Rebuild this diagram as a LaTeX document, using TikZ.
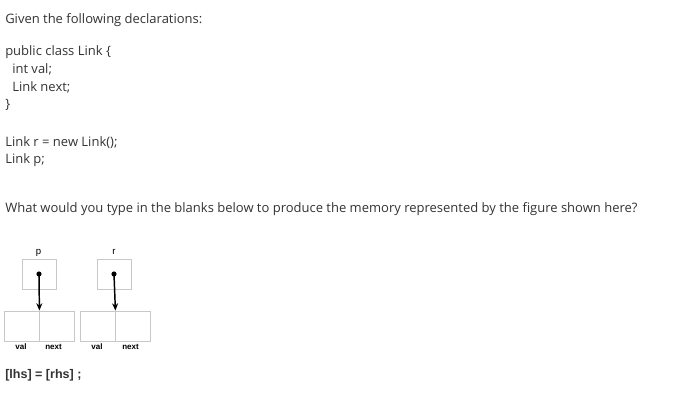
\documentclass[tikz,border=0pt]{standalone}
\usepackage{fontspec}
\setmainfont{Open Sans}
\newfontfamily\arialfont{Liberation Sans}
\usetikzlibrary{positioning, arrows.meta}
\definecolor{textgray}{HTML}{333333}
\definecolor{boxgray}{HTML}{C8C8C8}

\begin{document}
\begin{tikzpicture}[x=0.75pt, y=-0.75pt, >={Stealth[length=5.5pt, width=4.5pt]}]
    \tikzstyle{txt} = [anchor=base west, inner sep=0pt, text=textgray,
	font=\fontsize{9.75}{12}\selectfont]
    \tikzstyle{cell} = [draw=boxgray, line width=0.6pt, minimum width=26.25pt,
	minimum height=22.5pt, inner sep=0pt]
    \tikzstyle{ref} = [draw=boxgray, line width=0.6pt, minimum width=25.5pt,
	minimum height=22.5pt, inner sep=0pt]
    \tikzstyle{tag} = [anchor=base, inner sep=0pt, text=black,
	font=\arialfont\fontsize{6}{7}\selectfont\bfseries]

	\useasboundingbox (0,0) rectangle (685,407);

	% question text
	\node[txt] (given) at (5,23) {Given the following declarations:};
	\node[txt] (cls) at (5,55) {public class Link \{};
	\node[txt] (fval) at (12,73) {int val;};
	\node[txt] (fnext) at (12,91) {Link next;};
	\node[txt] (close) at (5,108.5) {\}};
	\node[txt] (declr) at (5,146) {Link r = new Link();};
	\node[txt] (declp) at (5,163.5) {Link p;};
	\node[txt] (ask) at (5,212) {What would you type in the blanks below to produce the memory represented by the figure shown here?};

	% memory figure
	\begin{scope}
		\node[ref] (pbox) at (39,274) {};
		\node[ref] (rbox) at (114,274) {};
		\node[cell] (pval) at (21.5,326) {};
		\node[cell, right=0pt of pval] (pnext) {};
		\node[cell] (rval) at (97.5,326) {};
		\node[cell, right=0pt of rval] (rnext) {};

		\node[tag] (plabel) at (38.5,254.5) {\fontsize{7.2}{8}\selectfont\mdseries p};
		\node[tag] (rlabel) at (114,254.5) {\fontsize{7.2}{8}\selectfont\mdseries r};
		\node[tag] at (21,349) {val};
		\node[tag] at (53.5,349) {next};
		\node[tag] at (97,349) {val};
		\node[tag] at (130.5,349) {next};

		\fill (pbox.center) circle (2.6);
		\fill (rbox.center) circle (2.6);
		\draw[->, line width=1.1pt] (pbox.center) -- (pval.north east);
		\draw[->, line width=1.1pt] (rbox.center) -- (rval.north east);
	\end{scope}

	\node[anchor=base west, inner sep=0pt, text=textgray,
	font=\arialfont\fontsize{9.4}{11}\selectfont\bfseries] (blank) at (5,378.5) {[lhs] = [rhs] ;};
\end{tikzpicture}
\end{document}
